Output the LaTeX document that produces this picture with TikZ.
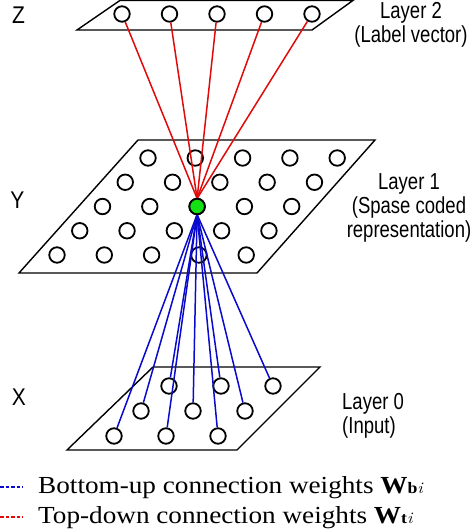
\documentclass[tikz,border=0pt]{standalone}
\usepackage{fontspec}
\newfontfamily\sansf{Liberation Sans}
\newfontfamily\seriff{Liberation Serif}
\definecolor{upblue}{RGB}{10,10,205}
\definecolor{downred}{RGB}{225,10,10}
\definecolor{nodegreen}{RGB}{20,225,20}
\begin{document}
\begin{tikzpicture}[x=1pt,y=-1pt,
  cir/.style={circle,draw,line width=1.8pt,minimum size=15.5pt,inner sep=0pt},
  plane/.style={draw,line width=1.4pt,line join=miter,fill=white},
  up/.style={draw=upblue,line width=1.5pt},
  down/.style={draw=downred,line width=1.5pt},
  lab/.style={font=\sansf\fontsize{18.5}{19.5}\selectfont,yscale=1.25,inner sep=0pt,align=center},
  axis/.style={font=\sansf\fontsize{21}{22}\selectfont,yscale=1.15,inner sep=0pt},
  legtext/.style={font=\seriff\fontsize{24.5}{28}\selectfont,xscale=1.11,anchor=base west,inner sep=0pt},
  legline/.style={line width=1.2pt,dash pattern=on 3.5pt off 2pt}
  ]
\useasboundingbox (0,0) rectangle (474,530);
% planes
\draw[plane] (120,0.4) -- (353,0.4) -- (312,30) -- (77,30) -- cycle;
\draw[plane] (138,140) -- (375,140) -- (257,273) -- (19,273) -- cycle;
\draw[plane] (153,367) -- (320,367) -- (237,450) -- (67,450) -- cycle;
% top layer
\foreach \xx [count=\n] in {122,169.5,217,264.5,312}
  \node[cir] (t\n) at (\xx,14) {};
% middle layer
\foreach \r in {1,...,5}
  \foreach \c in {0,...,4}
    \node[cir] (m\r\c) at ({148-22.75*(\r-1)+47.3*\c},{158+24.25*(\r-1)}) {};
% bottom layer
\node[cir] (b1) at (169,386) {};
\node[cir] (b2) at (221,386) {};
\node[cir] (b3) at (273,386) {};
\node[cir] (b4) at (141,411) {};
\node[cir] (b5) at (193,411) {};
\node[cir] (b6) at (245,411) {};
\node[cir] (b7) at (114,436) {};
\node[cir] (b8) at (166,436) {};
\node[cir] (b9) at (218,436) {};
% green node position
\coordinate (gc) at (m32);
% connections
\foreach \n in {1,...,5}
  \draw[down] (gc) ++(0,-8) coordinate (gtop) (gtop) -- (t\n);
\foreach \n in {1,...,9}
  \draw[up] (gc) ++(0,8) coordinate (gbot) (gbot) -- (b\n);
\node[cir,fill=nodegreen] (g) at (gc) {};
% labels
\node[axis] (zl) at (18.5,15) {Z};
\node[axis] (yl) at (17.5,200) {Y};
\node[axis] (xl) at (19,397) {X};
\node[lab] (l2) at (411,25) {Layer 2\\(Label vector)};
\node[lab] (l1) at (409,208) {Layer 1\\(Spase coded\\representation)};
\node[lab,align=left,anchor=west] (l0) at (342,416) {Layer 0\\(Input)};
% legend
\coordinate (ua) at (0,487);
\coordinate (ub) at (23,487);
\coordinate (da) at (0,517);
\coordinate (db) at (23,517);
\draw[legline,draw=upblue] (ua) -- (ub);
\draw[legline,draw=downred] (da) -- (db);
\node[legtext] (lu) at (38,493) {Bottom-up connection weights \textbf{W}{\fontsize{16}{16}\selectfont\bfseries b\normalfont\itshape\fontsize{16}{16}\selectfont i}};
\node[legtext] (ld) at (38,523) {Top-down connection weights \textbf{W}{\fontsize{16}{16}\selectfont\bfseries t\normalfont\itshape\fontsize{16}{16}\selectfont i}};
\end{tikzpicture}
\end{document}
